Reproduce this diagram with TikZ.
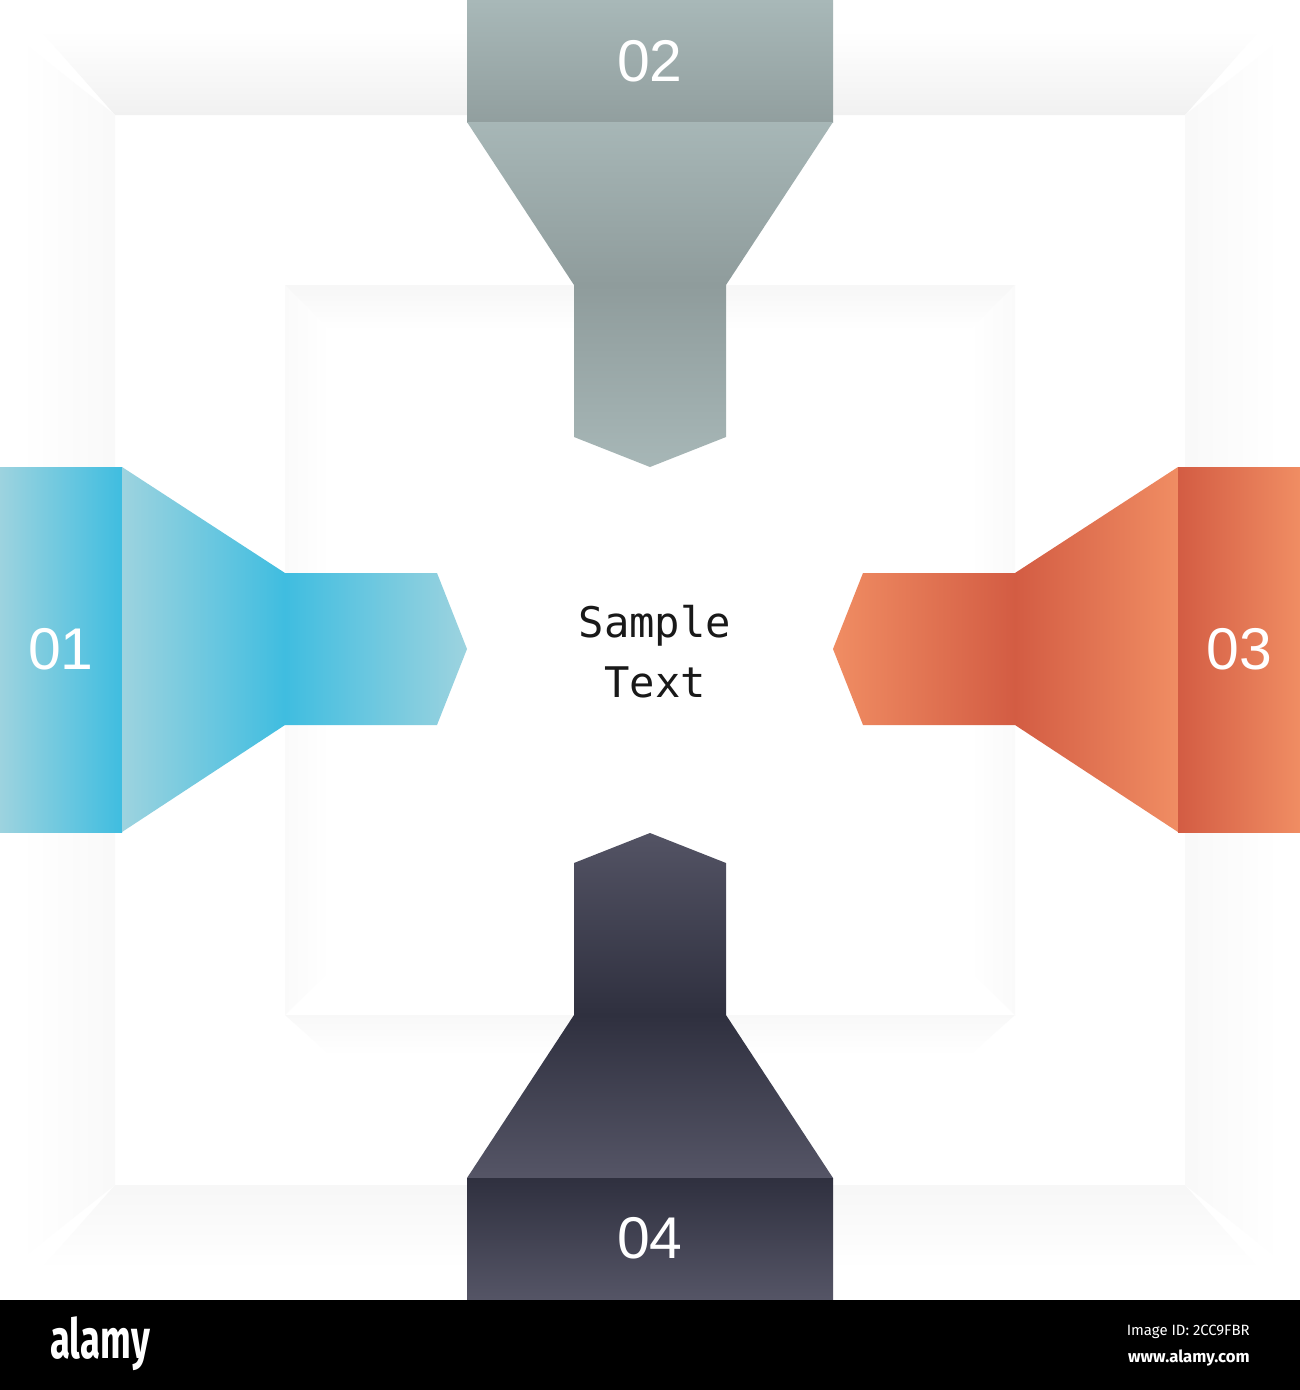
\documentclass[tikz,border=0pt]{standalone}
\usepackage{fontspec}
\setmonofont{DejaVu Sans Mono}
\newfontfamily\wmfont{Fira Sans}
\newfontfamily\numfont{Liberation Sans}
\usetikzlibrary{positioning}
\definecolor{grylt}{HTML}{A8B8B8}
\definecolor{grydk}{HTML}{8F9C9C}
\definecolor{blult}{HTML}{9DD3DF}
\definecolor{bludk}{HTML}{3FBDE0}
\definecolor{orglt}{HTML}{F08D63}
\definecolor{orgdk}{HTML}{D35C43}
\definecolor{navlt}{HTML}{555566}
\definecolor{navdk}{HTML}{2F303F}
\definecolor{shad}{HTML}{F1F1F1}
\tikzset{
	numlabel/.style={text=white, inner sep=0pt, font=\numfont\fontsize{33.5}{33.5}\selectfont},
	wmtext/.style={text=white, inner sep=0pt, anchor=east}
}
\begin{document}
\begin{tikzpicture}[x=0.02cm,y=-0.02cm]
		\useasboundingbox (0,0) rectangle (1300,1390);
		\fill[white] (0,0) rectangle (1300,1300);
		% soft frame behind the arrows
		\shade[top color=white, bottom color=shad] (40,30) -- (1260,30) -- (1185,115) -- (115,115) -- cycle;
		\shade[left color=white, right color=shad!45] (20,40) -- (115,115) -- (115,1185) -- (20,1260) -- cycle;
		\shade[left color=shad!45, right color=white] (1280,40) -- (1185,115) -- (1185,1185) -- (1280,1260) -- cycle;
		\shade[top color=shad!60, bottom color=white] (115,1185) -- (1185,1185) -- (1260,1270) -- (40,1270) -- cycle;
		\shade[top color=shad!60, bottom color=white] (285,285) -- (1015,285) -- (970,330) -- (330,330) -- cycle;
		\shade[left color=shad!35, right color=white] (285,285) -- (330,330) -- (330,970) -- (285,1015) -- cycle;
		\shade[left color=white, right color=shad!35] (1015,285) -- (970,330) -- (970,970) -- (1015,1015) -- cycle;
		\shade[top color=shad!50, bottom color=white] (285,1015) -- (1015,1015) -- (970,1055) -- (330,1055) -- cycle;
		% 02, top
		\shade[top color=grylt, bottom color=grydk!90!grylt] (467,0) rectangle (833,122);
		\shade[top color=grylt!95!grydk, bottom color=grydk] (467,122) -- (833,122) -- (726,285) -- (574,285) -- cycle;
		\shade[top color=grydk, bottom color=grylt!95!grydk] (574,285) -- (726,285) -- (726,437) -- (650,467) -- (574,437) -- cycle;
		\node[numlabel] (n02) at (650,61) {02};
		% 01, left
		\shade[left color=blult, right color=bludk] (0,467) rectangle (122,832);
		\shade[left color=blult, right color=bludk] (122,467) -- (285,573) -- (285,725) -- (122,832) -- cycle;
		\shade[left color=bludk, right color=blult] (285,573) -- (437,573) -- (467,649) -- (437,725) -- (285,725) -- cycle;
		\node[numlabel] (n01) at (61,649) {01};
		% 03, right
		\shade[left color=orgdk, right color=orglt] (1178,467) rectangle (1300,832);
		\shade[left color=orgdk, right color=orglt] (1015,573) -- (1178,467) -- (1178,832) -- (1015,725) -- cycle;
		\shade[left color=orglt, right color=orgdk] (833,649) -- (863,573) -- (1015,573) -- (1015,725) -- (863,725) -- cycle;
		\node[numlabel] (n03) at (1239,649) {03};
		% 04, bottom
		\shade[top color=navlt!95!navdk, bottom color=navdk] (650,833) -- (726,863) -- (726,1015) -- (574,1015) -- (574,863) -- cycle;
		\shade[top color=navdk, bottom color=navlt] (574,1015) -- (726,1015) -- (833,1178) -- (467,1178) -- cycle;
		\shade[top color=navdk, bottom color=navlt] (467,1178) rectangle (833,1300);
		\node[numlabel] (n04) at (650,1238) {04};
		\node[align=center, text=black!90, font=\ttfamily\fontsize{24}{34}\selectfont] (sample) at (655,652) {Sample\\Text};
		% watermark strip
		\fill[black] (0,1300) rectangle (1300,1390);
		\node[text=white, inner sep=0pt, anchor=west, xscale=0.74, yscale=1.12, font=\wmfont\bfseries\fontsize{28}{28}\selectfont] (alamy) at (50,1344) {alamy};
		\node[wmtext, font=\wmfont\fontsize{8.5}{9}\selectfont] (imgid) at (1250,1332) {Image ID: 2CC9FBR};
		\node[wmtext, font=\wmfont\bfseries\fontsize{9.5}{10}\selectfont, below=2mm of imgid.south east, anchor=north east] (site) {www.alamy.com};
	\end{tikzpicture}
\end{document}
